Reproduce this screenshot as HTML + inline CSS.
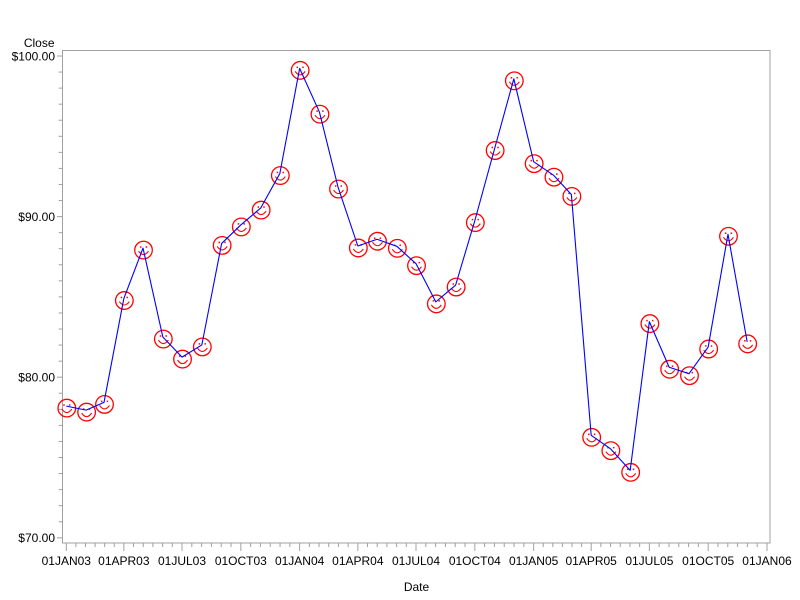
<!DOCTYPE html>
<html>
<head>
<meta charset="utf-8">
<style>
html,body{margin:0;padding:0;background:#fff;}
svg{display:block;}
text{font-family:"Liberation Sans",Arial,sans-serif;font-size:12px;fill:#000;}
</style>
</head>
<body>
<svg width="800" height="600" viewBox="0 0 800 600" xmlns="http://www.w3.org/2000/svg">
<defs>
  <g id="sm">
    <circle cx="0" cy="0" r="8.8" fill="none" stroke="#ff0000" stroke-width="1.3"/>
    <rect x="-3.6" y="-3.8" width="1.5" height="1.5" fill="#ff0000"/>
    <rect x="2.1" y="-3.8" width="1.5" height="1.5" fill="#ff0000"/>
    <path d="M-5,1 Q0,8 5,1" fill="none" stroke="#ff0000" stroke-width="1.1"/>
  </g>
</defs>
<rect x="0" y="0" width="800" height="600" fill="#fff"/>
<!-- frame -->
<rect x="62.5" y="50.5" width="707.5" height="492.5" fill="none" stroke="#a0a0a0" stroke-width="1"/>

<!-- y ticks -->
<g stroke="#a0a0a0" stroke-width="1">
  <line x1="57" y1="56" x2="62.5" y2="56"/>
  <line x1="57" y1="216.6" x2="62.5" y2="216.6"/>
  <line x1="57" y1="377.2" x2="62.5" y2="377.2"/>
  <line x1="57" y1="537.8" x2="62.5" y2="537.8"/>
  <line x1="58.7" y1="72.06" x2="62.5" y2="72.06"/>
  <line x1="58.7" y1="88.12" x2="62.5" y2="88.12"/>
  <line x1="58.7" y1="104.18" x2="62.5" y2="104.18"/>
  <line x1="58.7" y1="120.24" x2="62.5" y2="120.24"/>
  <line x1="58.7" y1="136.3" x2="62.5" y2="136.3"/>
  <line x1="58.7" y1="152.36" x2="62.5" y2="152.36"/>
  <line x1="58.7" y1="168.42" x2="62.5" y2="168.42"/>
  <line x1="58.7" y1="184.48" x2="62.5" y2="184.48"/>
  <line x1="58.7" y1="200.54" x2="62.5" y2="200.54"/>
  <line x1="58.7" y1="232.66" x2="62.5" y2="232.66"/>
  <line x1="58.7" y1="248.72" x2="62.5" y2="248.72"/>
  <line x1="58.7" y1="264.78" x2="62.5" y2="264.78"/>
  <line x1="58.7" y1="280.84" x2="62.5" y2="280.84"/>
  <line x1="58.7" y1="296.9" x2="62.5" y2="296.9"/>
  <line x1="58.7" y1="312.96" x2="62.5" y2="312.96"/>
  <line x1="58.7" y1="329.02" x2="62.5" y2="329.02"/>
  <line x1="58.7" y1="345.08" x2="62.5" y2="345.08"/>
  <line x1="58.7" y1="361.14" x2="62.5" y2="361.14"/>
  <line x1="58.7" y1="393.26" x2="62.5" y2="393.26"/>
  <line x1="58.7" y1="409.32" x2="62.5" y2="409.32"/>
  <line x1="58.7" y1="425.38" x2="62.5" y2="425.38"/>
  <line x1="58.7" y1="441.44" x2="62.5" y2="441.44"/>
  <line x1="58.7" y1="457.5" x2="62.5" y2="457.5"/>
  <line x1="58.7" y1="473.56" x2="62.5" y2="473.56"/>
  <line x1="58.7" y1="489.62" x2="62.5" y2="489.62"/>
  <line x1="58.7" y1="505.68" x2="62.5" y2="505.68"/>
  <line x1="58.7" y1="521.74" x2="62.5" y2="521.74"/>
</g>

<!-- y labels -->
<g text-anchor="end">
  <text x="55" y="60.3">$100.00</text>
  <text x="55" y="220.9">$90.00</text>
  <text x="55" y="381.5">$80.00</text>
  <text x="55" y="542.1">$70.00</text>
  <text x="54.5" y="47">Close</text>
</g>

<!-- x ticks -->
<g stroke="#a0a0a0" stroke-width="1" id="xt">
  <line x1="66.3" y1="543" x2="66.3" y2="551"/>
  <line x1="123.84" y1="543" x2="123.84" y2="551"/>
  <line x1="182.02" y1="543" x2="182.02" y2="551"/>
  <line x1="240.83" y1="543" x2="240.83" y2="551"/>
  <line x1="299.65" y1="543" x2="299.65" y2="551"/>
  <line x1="357.83" y1="543" x2="357.83" y2="551"/>
  <line x1="416.01" y1="543" x2="416.01" y2="551"/>
  <line x1="474.83" y1="543" x2="474.83" y2="551"/>
  <line x1="533.64" y1="543" x2="533.64" y2="551"/>
  <line x1="591.18" y1="543" x2="591.18" y2="551"/>
  <line x1="649.36" y1="543" x2="649.36" y2="551"/>
  <line x1="708.17" y1="543" x2="708.17" y2="551"/>
  <line x1="766.99" y1="543" x2="766.99" y2="551"/>
</g>
<g stroke="#a0a0a0" stroke-width="1">
  <!-- minor ticks: 5 per quarter -->
  <path d="
  M75.89,543V547 M85.48,543V547 M95.07,543V547 M104.66,543V547 M114.25,543V547
  M133.54,543V547 M143.24,543V547 M152.93,543V547 M162.63,543V547 M172.32,543V547
  M191.82,543V547 M201.62,543V547 M211.42,543V547 M221.23,543V547 M231.03,543V547
  M250.63,543V547 M260.44,543V547 M270.24,543V547 M280.04,543V547 M289.85,543V547
  M309.35,543V547 M319.05,543V547 M328.74,543V547 M338.44,543V547 M348.13,543V547
  M367.53,543V547 M377.23,543V547 M386.92,543V547 M396.62,543V547 M406.31,543V547
  M425.81,543V547 M435.62,543V547 M445.42,543V547 M455.22,543V547 M465.03,543V547
  M484.63,543V547 M494.43,543V547 M504.24,543V547 M514.04,543V547 M523.84,543V547
  M543.23,543V547 M552.82,543V547 M562.41,543V547 M572.0,543V547 M581.59,543V547
  M600.88,543V547 M610.58,543V547 M620.27,543V547 M629.97,543V547 M639.66,543V547
  M659.16,543V547 M668.96,543V547 M678.77,543V547 M688.57,543V547 M698.37,543V547
  M717.97,543V547 M727.78,543V547 M737.58,543V547 M747.38,543V547 M757.19,543V547
  " fill="none"/>
</g>

<!-- x labels -->
<g text-anchor="middle">
  <text x="66.3" y="565">01JAN03</text>
  <text x="123.84" y="565">01APR03</text>
  <text x="182.02" y="565">01JUL03</text>
  <text x="240.83" y="565">01OCT03</text>
  <text x="299.65" y="565">01JAN04</text>
  <text x="357.83" y="565">01APR04</text>
  <text x="416.01" y="565">01JUL04</text>
  <text x="474.83" y="565">01OCT04</text>
  <text x="533.64" y="565">01JAN05</text>
  <text x="591.18" y="565">01APR05</text>
  <text x="649.36" y="565">01JUL05</text>
  <text x="708.17" y="565">01OCT05</text>
  <text x="766.99" y="565">01JAN06</text>
  <text x="416.5" y="591">Date</text>
</g>

<!-- markers -->
<g transform="translate(0.5,2)">
  <use href="#sm" x="66.3" y="406.11"/>
  <use href="#sm" x="86.12" y="410.12"/>
  <use href="#sm" x="104.02" y="402.41"/>
  <use href="#sm" x="123.84" y="298.51"/>
  <use href="#sm" x="143.02" y="248.08"/>
  <use href="#sm" x="162.84" y="337.05"/>
  <use href="#sm" x="182.02" y="357.13"/>
  <use href="#sm" x="201.83" y="344.92"/>
  <use href="#sm" x="221.65" y="243.42"/>
  <use href="#sm" x="240.83" y="224.95"/>
  <use href="#sm" x="260.65" y="208.09"/>
  <use href="#sm" x="279.83" y="173.56"/>
  <use href="#sm" x="299.65" y="68.37"/>
  <use href="#sm" x="319.47" y="112.21"/>
  <use href="#sm" x="338.01" y="187.05"/>
  <use href="#sm" x="357.83" y="245.99"/>
  <use href="#sm" x="377.01" y="239.24"/>
  <use href="#sm" x="396.83" y="246.31"/>
  <use href="#sm" x="416.01" y="263.66"/>
  <use href="#sm" x="435.83" y="301.88"/>
  <use href="#sm" x="455.65" y="285.02"/>
  <use href="#sm" x="474.83" y="220.62"/>
  <use href="#sm" x="494.64" y="148.51"/>
  <use href="#sm" x="513.82" y="78.81"/>
  <use href="#sm" x="533.64" y="161.67"/>
  <use href="#sm" x="553.46" y="175.17"/>
  <use href="#sm" x="571.36" y="194.44"/>
  <use href="#sm" x="591.18" y="435.34"/>
  <use href="#sm" x="610.36" y="448.67"/>
  <use href="#sm" x="630.18" y="470.35"/>
  <use href="#sm" x="649.36" y="321.63"/>
  <use href="#sm" x="669.18" y="367.24"/>
  <use href="#sm" x="688.99" y="373.67"/>
  <use href="#sm" x="708.17" y="347.01"/>
  <use href="#sm" x="727.99" y="234.27"/>
  <use href="#sm" x="747.17" y="341.87"/>
</g>

<!-- line -->
<polyline fill="none" stroke="#0000ff" stroke-width="1.1" stroke-linejoin="round" points="
66.3,406.11 86.12,410.12 104.02,402.41 123.84,298.51 143.02,248.08 162.84,337.05
182.02,357.13 201.83,344.92 221.65,243.42 240.83,224.95 260.65,208.09 279.83,173.56
299.65,68.37 319.47,112.21 338.01,187.05 357.83,245.99 377.01,239.24 396.83,246.31
416.01,263.66 435.83,301.88 455.65,285.02 474.83,220.62 494.64,148.51 513.82,78.81
533.64,161.67 553.46,175.17 571.36,194.44 591.18,435.34 610.36,448.67 630.18,470.35
649.36,321.63 669.18,367.24 688.99,373.67 708.17,347.01 727.99,234.27 747.17,341.87"/>
</svg>
</body>
</html>
